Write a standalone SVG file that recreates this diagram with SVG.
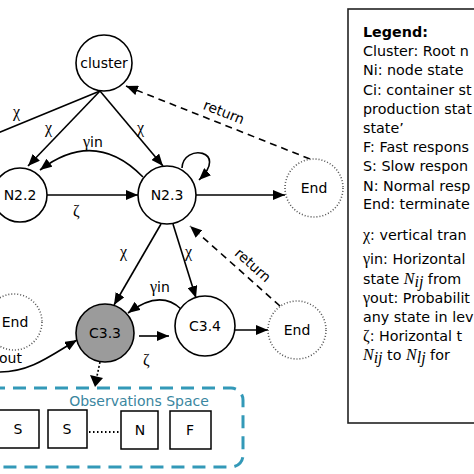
<svg xmlns="http://www.w3.org/2000/svg" width="474" height="474" viewBox="0 0 474 474">
<defs>
<marker id="ah" markerUnits="userSpaceOnUse" markerWidth="12" markerHeight="10" refX="12" refY="5" orient="auto"><path d="M0,0 L12,5 L0,10 z" fill="#000"/></marker>
<style>
.n{fill:#fff;stroke:#000;stroke-width:1.6}
.d{fill:#fff;stroke:#555;stroke-width:1.6;stroke-dasharray:1 2}
.t{font-family:"DejaVu Sans",sans-serif;font-size:14px;fill:#000}
.g{font-family:"Liberation Serif",serif;font-size:16px;fill:#000}
.e{fill:none;stroke:#000;stroke-width:1.6;marker-end:url(#ah)}
.r{fill:none;stroke:#000;stroke-width:1.6;stroke-dasharray:7 5;marker-end:url(#ah)}
.l{font-family:"DejaVu Sans",sans-serif;font-size:14.3px;fill:#000}
.m{font-family:"Liberation Serif",serif;font-style:italic;font-size:16px}
.b{fill:#fff;stroke:#000;stroke-width:1.5}
</style>
</defs>
<rect width="474" height="474" fill="#fff"/>

<g id="connectors">
<path class="e" d="M100,91 L28,166"/>
<path class="e" d="M100,91 L163,166"/>
<path fill="none" stroke="#000" stroke-width="1.6" d="M100,91 L-2,133"/>
<path class="e" d="M143,177 Q95,128 40,170"/>
<path class="e" d="M47,195 L138,195"/>
<path class="e" d="M182,168 C183,143 230,150 199,180"/>
<path class="e" d="M196,195 L285,195"/>
<path class="r" d="M310,159 L126,86"/>
<path class="e" d="M161,224 L114,305"/>
<path class="e" d="M173,224 L196,298"/>
<path class="e" d="M181,309 Q160,289 128,313"/>
<path class="e" d="M139,336 L169,336"/>
<path class="e" d="M235,330 L268,330"/>
<path class="r" d="M280,306 L190,226"/>
<path class="e" d="M0,372 C30,372 50,356 77,340"/>
<path fill="none" stroke="#000" stroke-width="1.6" stroke-dasharray="2 2" d="M100,362 L97,376"/>
<path fill="#000" d="M90,375 L103,378 L95,387 z"/>
<text class="g" x="13" y="117">χ</text>
<text class="g" x="45" y="133">χ</text>
<text class="g" x="137" y="133">χ</text>
<text class="g" x="83" y="147">γ<tspan class="t" font-size="13">in</tspan></text>
<text class="g" x="73" y="216">ζ</text>
<text class="t" x="224" y="117" text-anchor="middle" transform="rotate(21.6 224 112)">return</text>
<text class="g" x="120" y="257">χ</text>
<text class="g" x="185" y="257">χ</text>
<text class="g" x="150" y="292">γ<tspan class="t" font-size="13">in</tspan></text>
<text class="g" x="143" y="365">ζ</text>
<text class="t" x="253" y="270" text-anchor="middle" transform="rotate(42 253 265)">return</text>
<text class="t" x="-1" y="363" font-size="13">out</text>
</g>

<g id="cluster"><circle class="n" cx="104" cy="63" r="28"/><text class="t" x="104" y="68" text-anchor="middle">cluster</text></g>
<g id="N2.2"><circle class="n" cx="20" cy="195" r="27"/><text class="t" x="20" y="200" text-anchor="middle">N2.2</text></g>
<g id="N2.3"><circle class="n" cx="167" cy="195" r="29"/><text class="t" x="167" y="200" text-anchor="middle">N2.3</text></g>
<g id="End1"><circle class="d" cx="314" cy="188" r="29"/><text class="t" x="314" y="193" text-anchor="middle">End</text></g>
<g id="EndL"><circle class="d" cx="14" cy="322" r="28"/><text class="t" x="15" y="327" text-anchor="middle">End</text></g>
<g id="C3.3"><circle cx="105" cy="333" r="29" fill="#9b9b9b" stroke="#000" stroke-width="1.6"/><text class="t" x="105" y="338" text-anchor="middle">C3.3</text></g>
<g id="C3.4"><circle class="n" cx="205" cy="326" r="30"/><text class="t" x="205" y="331" text-anchor="middle">C3.4</text></g>
<g id="End2"><circle class="d" cx="297" cy="330" r="29"/><text class="t" x="297" y="335" text-anchor="middle">End</text></g>

<g id="observations">
<rect x="-20" y="388" width="263" height="79" rx="12" fill="none" stroke="#3399b8" stroke-width="3" stroke-dasharray="13 8"/>
<text x="139" y="406" text-anchor="middle" font-family="DejaVu Sans,sans-serif" font-size="14" fill="#3a86a0">Observations Space</text>
<rect class="b" x="-4" y="410" width="43" height="38"/><text class="t" x="18" y="434" text-anchor="middle">S</text>
<rect class="b" x="48" y="410" width="39" height="38"/><text class="t" x="67" y="434" text-anchor="middle">S</text>
<path d="M89,432 L120,432" stroke="#000" stroke-width="2" stroke-dasharray="1.5 2.5"/>
<rect class="b" x="121" y="411" width="37" height="38"/><text class="t" x="140" y="435" text-anchor="middle">N</text>
<rect class="b" x="170" y="411" width="41" height="38"/><text class="t" x="190" y="435" text-anchor="middle">F</text>
</g>

<g id="legend">
<rect x="348" y="9" width="140" height="414" fill="#fff" stroke="#222" stroke-width="1.6"/>
<text class="l" x="363" y="37" font-weight="bold">Legend:</text>
<text class="l" x="363" y="56">Cluster: Root n</text>
<text class="l" x="363" y="75">Ni: node state</text>
<text class="l" x="363" y="95">Ci: container st</text>
<text class="l" x="363" y="114">production stat</text>
<text class="l" x="363" y="133">state’</text>
<text class="l" x="363" y="152">F: Fast respons</text>
<text class="l" x="363" y="171">S: Slow respon</text>
<text class="l" x="363" y="191">N: Normal resp</text>
<text class="l" x="363" y="209">End: terminate</text>
<text class="l" x="363" y="240"><tspan class="g">χ</tspan>: vertical tran</text>
<text class="l" x="363" y="264"><tspan class="g">γ</tspan>in: Horizontal</text>
<text class="l" x="363" y="284">state <tspan class="m">N</tspan><tspan class="m" font-size="11" dy="3">ij</tspan><tspan dy="-3"> from</tspan></text>
<text class="l" x="363" y="303"><tspan class="g">γ</tspan>out: Probabilit</text>
<text class="l" x="363" y="322">any state in lev</text>
<text class="l" x="363" y="341"><tspan class="g">ζ</tspan>: Horizontal t</text>
<text class="l" x="363" y="360"><tspan class="m">N</tspan><tspan class="m" font-size="11" dy="3">ij</tspan><tspan dy="-3"> to </tspan><tspan class="m">N</tspan><tspan class="m" font-size="11" dy="3">lj</tspan><tspan dy="-3"> for</tspan></text>
</g>
</svg>
